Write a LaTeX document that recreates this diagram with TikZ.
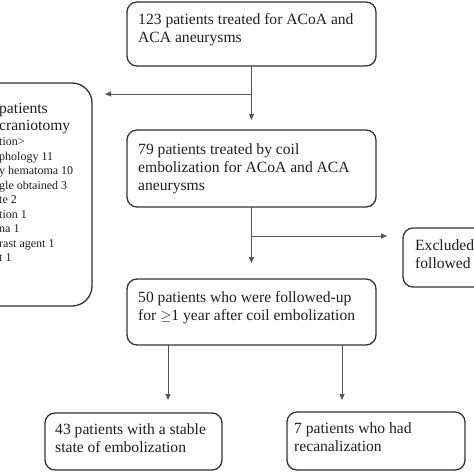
\documentclass[tikz,border=0pt]{standalone}
\usepackage{fontspec}
\setmainfont{Liberation Serif}
\usetikzlibrary{arrows.meta,positioning}
\definecolor{boxgray}{HTML}{333333}
\definecolor{textgray}{HTML}{1E1E1E}
\definecolor{linegray}{HTML}{555555}

\begin{document}
\begin{tikzpicture}[x=1pt,y=-1pt,
    block/.style={draw=boxgray,line width=1.3pt,rectangle,rounded corners=10pt,minimum width=249pt,outer sep=0pt,inner sep=0pt},
    txt/.style={anchor=north west,inner sep=0pt,align=left,text=textgray,font=\fontsize{15.6}{18}\selectfont},
    small/.style={txt,font=\fontsize{12}{14.5}\selectfont},
    line/.style={draw=linegray,line width=0.9pt},
    arrow/.style={line,-{Triangle[length=6pt,width=5pt]},shorten >=10pt}]

        \clip (0,0) rectangle (474,474);

        % main column
        \node [block, minimum height=64pt] (total) at (251.5,34) {};
        \node [block, minimum height=77pt, below=64pt of total] (coil) {};
        \node [block, minimum height=66pt, below=72pt of coil] (fup) {};

        % side and bottom boxes
        \node [block, minimum width=152pt, minimum height=223pt, rounded corners=20pt] (cran) at (16,194.5) {};
        \node [block, minimum width=137pt, minimum height=59pt] (excl) at (471.5,257.5) {};
        \node [block, minimum width=177pt, minimum height=57pt] (stable) at (133.5,441.5) {};
        \node [block, minimum width=178pt, minimum height=58pt] (recan) at (376,441) {};

        % texts
        \node [txt] (totaltext) at ([shift={(11pt,-11.5pt)}]total.north west) {123 patients treated for ACoA and\\ACA aneurysms};
        \node [txt] (coiltext) at ([shift={(11pt,-13pt)}]coil.north west) {79 patients treated by coil\\embolization for ACoA and ACA\\aneurysms};
        \node [txt] (fuptext) at ([shift={(11pt,-12.5pt)}]fup.north west) {50 patients who were followed-up\\for $\geq$1 year after coil embolization};
        \node [txt] (excltext) at ([shift={(12pt,-11.5pt)}]excl.north west) {Excluded\\followed};
        \node [txt] (stabletext) at ([shift={(10pt,-10.5pt)}]stable.north west) {43 patients with a stable\\state of embolization};
        \node [txt] (recantext) at ([shift={(7pt,-10.5pt)}]recan.north west) {7 patients who had\\recanalization};

        \node [txt, anchor=base west] (cranA) at (-1,113) {patients};
        \node [txt, anchor=base west] (cranB) at (-1,130) {craniotomy};
        \foreach \reason [count=\i] in {tion>,phology 11,y hematoma 10,gle obtained 3,te 2,tion 1,na 1,rast agent 1,t 1}
          \node [small, anchor=base west] (reason\i) at (-1,131+14.5*\i) {\reason};

        % connectors
        \coordinate (split1) at (251.5,94);
        \coordinate (split2) at (251.5,236);
        \coordinate (leftdrop) at ([xshift=-83.5pt]fup.south);
        \coordinate (rightdrop) at ([xshift=90.5pt]fup.south);

        \draw [line] (total.south) -- (split1);
        \draw [arrow] (split1) -- (coil.north);
        \draw [arrow, shorten >=13pt] (split1) -- (split1 -| cran.east);
        \draw [line] (coil.south) -- (split2);
        \draw [arrow, shorten >=16pt] (split2) -- (fup.north);
        \draw [arrow, shorten >=16pt] (split2) -- (split2 -| excl.west);
        \draw [arrow, shorten >=13pt] (leftdrop) -- (leftdrop |- stable.north);
        \draw [arrow, shorten >=12pt] (rightdrop) -- (rightdrop |- recan.north);
\end{tikzpicture}
\end{document}
